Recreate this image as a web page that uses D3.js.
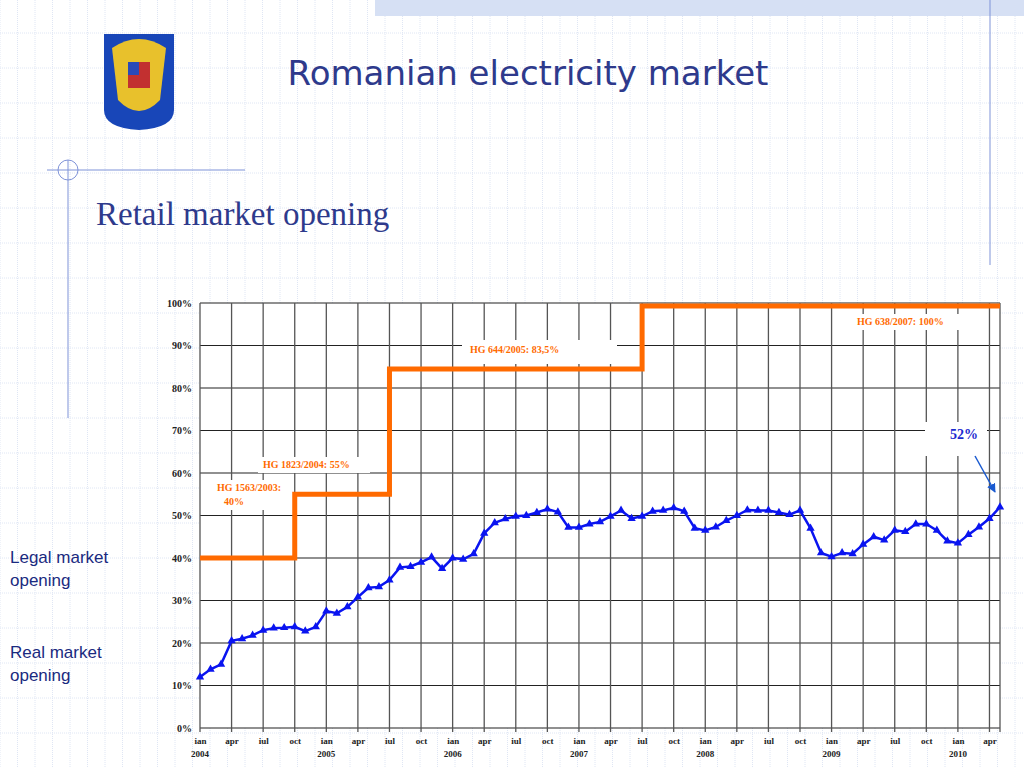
<!DOCTYPE html>
<html><head><meta charset="utf-8">
<script src="https://cdn.jsdelivr.net/npm/d3@7"></script>
<style>body{margin:0;background:#fff}svg{display:block}</style>
</head><body>
<svg id="chart" width="1024" height="768"></svg>
<script>
// Real market opening, monthly, ian 2004 .. mai 2010 (%)
const realOpening = [
  12, 13.8, 15, 20.5, 21, 21.8, 23, 23.5, 23.6, 23.8, 22.8, 23.8,
  27.5, 27, 28.5, 30.8, 33, 33.2, 34.8, 37.8, 38, 39, 40.2, 37.5,
  40, 39.7, 41, 45.8, 48.3, 49.2, 49.8, 50, 50.7, 51.5, 50.8, 47.2,
  47.2, 48, 48.5, 49.8, 51.2, 49.3, 49.8, 51, 51.2, 51.8, 51, 47,
  46.5, 47.3, 48.8, 50, 51.3, 51.2, 51.2, 50.7, 50.2, 51.2, 47, 41.2,
  40.3, 41.2, 41, 43.2, 45, 44.2, 46.5, 46.2, 48, 48, 46.5, 44,
  43.5, 45.5, 47.3, 49.3, 52
];
// Legal market opening steps: [start month index, end month index, %]
const legalSteps = [[0, 9, 40], [9, 18, 55], [18, 42, 84.5], [42, 76, 99.3]];
const monthLabels = ["ian", "apr", "iul", "oct"];
const years = [2004, 2005, 2006, 2007, 2008, 2009, 2010];
const yTicks = [0, 10, 20, 30, 40, 50, 60, 70, 80, 90, 100];

const svg = d3.select("#chart");

// slide background
const bg = svg.append("g");
for (let x = 0; x < 1024; x += 17.5)
  bg.append("line").attr("x1", x).attr("x2", x).attr("y1", 0).attr("y2", 768)
    .attr("stroke", "#dfe6f4").attr("stroke-dasharray", "1,1");
for (let y = 33; y < 768; y += 35)
  bg.append("line").attr("x1", 0).attr("x2", 1024).attr("y1", y).attr("y2", y)
    .attr("stroke", "#dfe6f4").attr("stroke-dasharray", "1,1");
svg.append("rect").attr("x", 375).attr("y", 0).attr("width", 649).attr("height", 16).attr("fill", "#d6e0f4");
svg.append("line").attr("x1", 990).attr("x2", 990).attr("y1", 0).attr("y2", 265).attr("stroke", "#7f93d8");
svg.append("line").attr("x1", 68).attr("x2", 68).attr("y1", 160).attr("y2", 418).attr("stroke", "#7f93d8");
svg.append("line").attr("x1", 47).attr("x2", 245).attr("y1", 170).attr("y2", 170).attr("stroke", "#7f93d8");
svg.append("circle").attr("cx", 68).attr("cy", 170).attr("r", 10).attr("fill", "none").attr("stroke", "#7f93d8");

// coat of arms (simplified)
svg.append("path").attr("d", "M104,34 L174,34 L174,110 Q174,128 139,130 Q104,128 104,110 Z").attr("fill", "#1846b8");
svg.append("path").attr("d", "M112,48 Q139,30 166,48 L160,100 Q139,122 118,100 Z").attr("fill", "#e8c12c");
svg.append("rect").attr("x", 128).attr("y", 62).attr("width", 22).attr("height", 26).attr("fill", "#c23030");
svg.append("rect").attr("x", 128).attr("y", 62).attr("width", 11).attr("height", 13).attr("fill", "#2a4ab8");

svg.append("text").attr("x", 528).attr("y", 85).attr("text-anchor", "middle")
  .attr("font-family", "Verdana, DejaVu Sans, sans-serif").attr("font-size", 34).attr("fill", "#2e3a8c")
  .text("Romanian electricity market");
svg.append("text").attr("x", 96).attr("y", 225)
  .attr("font-family", "Liberation Serif, serif").attr("font-size", 33).attr("fill", "#2e3a8c")
  .text("Retail market opening");

const side = svg.append("g").attr("font-family", "Liberation Sans, Arial, sans-serif").attr("font-size", 17).attr("fill", "#1a2a80");
side.append("text").attr("x", 10).attr("y", 563).text("Legal market");
side.append("text").attr("x", 10).attr("y", 586).text("opening");
side.append("text").attr("x", 10).attr("y", 658).text("Real market");
side.append("text").attr("x", 10).attr("y", 681).text("opening");

// chart
const x = d3.scaleLinear().domain([0, 76]).range([200, 1000]);
const y = d3.scaleLinear().domain([0, 100]).range([728, 303]);
const g = svg.append("g");
g.append("rect").attr("x", 200).attr("y", 303).attr("width", 800).attr("height", 425).attr("fill", "#fff");

g.selectAll(".hg").data(yTicks).join("line")
  .attr("x1", 200).attr("x2", 1000).attr("y1", d => y(d)).attr("y2", d => y(d))
  .attr("stroke", "#222").attr("stroke-width", 1.2);
const qIdx = d3.range(0, 76, 3).concat([76]);
g.selectAll(".vg").data(qIdx).join("line")
  .attr("x1", d => x(d)).attr("x2", d => x(d)).attr("y1", 303).attr("y2", 732)
  .attr("stroke", "#555").attr("stroke-width", 1.3);

const font = "Liberation Serif, Times New Roman, serif";
const yAxis = g.append("g").attr("transform", "translate(200,0)")
  .call(d3.axisLeft(y).tickValues(yTicks).tickFormat(d => d + "%").tickSize(0).tickPadding(8));
yAxis.select(".domain").remove();
yAxis.selectAll("text").attr("font-family", font).attr("font-weight", "bold").attr("font-size", 10).attr("fill", "#222");

const xAxis = g.append("g").attr("transform", "translate(0,728)")
  .call(d3.axisBottom(x).tickValues(d3.range(0, 76, 3)).tickSize(0).tickPadding(10)
    .tickFormat(d => monthLabels[(d / 3) % 4]));
xAxis.select(".domain").remove();
xAxis.selectAll("text").attr("font-family", font).attr("font-weight", "bold").attr("font-size", 9).attr("fill", "#222");
g.selectAll(".yr").data(years).join("text")
  .attr("x", (d, i) => x(i * 12)).attr("y", 757).attr("text-anchor", "middle")
  .attr("font-family", font).attr("font-weight", "bold").attr("font-size", 9).attr("fill", "#222").text(d => d);

// legal opening step line
const stepPts = [];
legalSteps.forEach(s => { stepPts.push([s[0], s[2]]); stepPts.push([s[1], s[2]]); });
g.append("path").attr("d", d3.line().x(d => x(d[0])).y(d => y(d[1]))(stepPts))
  .attr("fill", "none").attr("stroke", "#ff6a00").attr("stroke-width", 5);

// real opening line
g.append("path").attr("d", d3.line().x((d, i) => x(i)).y(d => y(d))(realOpening))
  .attr("fill", "none").attr("stroke", "#0a14f0").attr("stroke-width", 2.5);
g.selectAll(".pt").data(realOpening).join("path")
  .attr("transform", (d, i) => `translate(${x(i)},${y(d)})`)
  .attr("d", d3.symbol(d3.symbolTriangle, 30)).attr("fill", "#0a14f0");

// annotations
const orange = "#ff6a00";
function note(tx, ty, txt, box) {
  if (box) g.append("rect").attr("x", box[0]).attr("y", box[1]).attr("width", box[2]).attr("height", box[3]).attr("fill", "#fff");
  g.append("text").attr("x", tx).attr("y", ty).attr("font-family", font).attr("font-weight", "bold")
    .attr("font-size", 10).attr("fill", orange).text(txt);
}
note(217, 491, "HG 1563/2003:", [214, 480, 78, 30]);
note(224, 505, "40%");
note(263, 468, "HG 1823/2004:  55%", [258, 457, 112, 16]);
note(470, 353, "HG 644/2005:  83,5%", [462, 340, 155, 24]);
note(857, 325, "HG 638/2007: 100%", [850, 314, 110, 16]);

g.append("rect").attr("x", 925).attr("y", 422).attr("width", 62).attr("height", 34).attr("fill", "#fff");
g.append("text").attr("x", 950).attr("y", 439).attr("font-family", font).attr("font-weight", "bold")
  .attr("font-size", 14).attr("fill", "#1a2ad0").text("52%");
svg.append("defs").append("marker").attr("id", "ar").attr("viewBox", "0 0 10 10").attr("refX", 9).attr("refY", 5)
  .attr("markerWidth", 6).attr("markerHeight", 6).attr("orient", "auto")
  .append("path").attr("d", "M0,0L10,5L0,10Z").attr("fill", "#1a5ad0");
g.append("line").attr("x1", 975).attr("y1", 456).attr("x2", 995).attr("y2", 492)
  .attr("stroke", "#1a5ad0").attr("stroke-width", 1.5).attr("marker-end", "url(#ar)");
</script>
</body></html>
